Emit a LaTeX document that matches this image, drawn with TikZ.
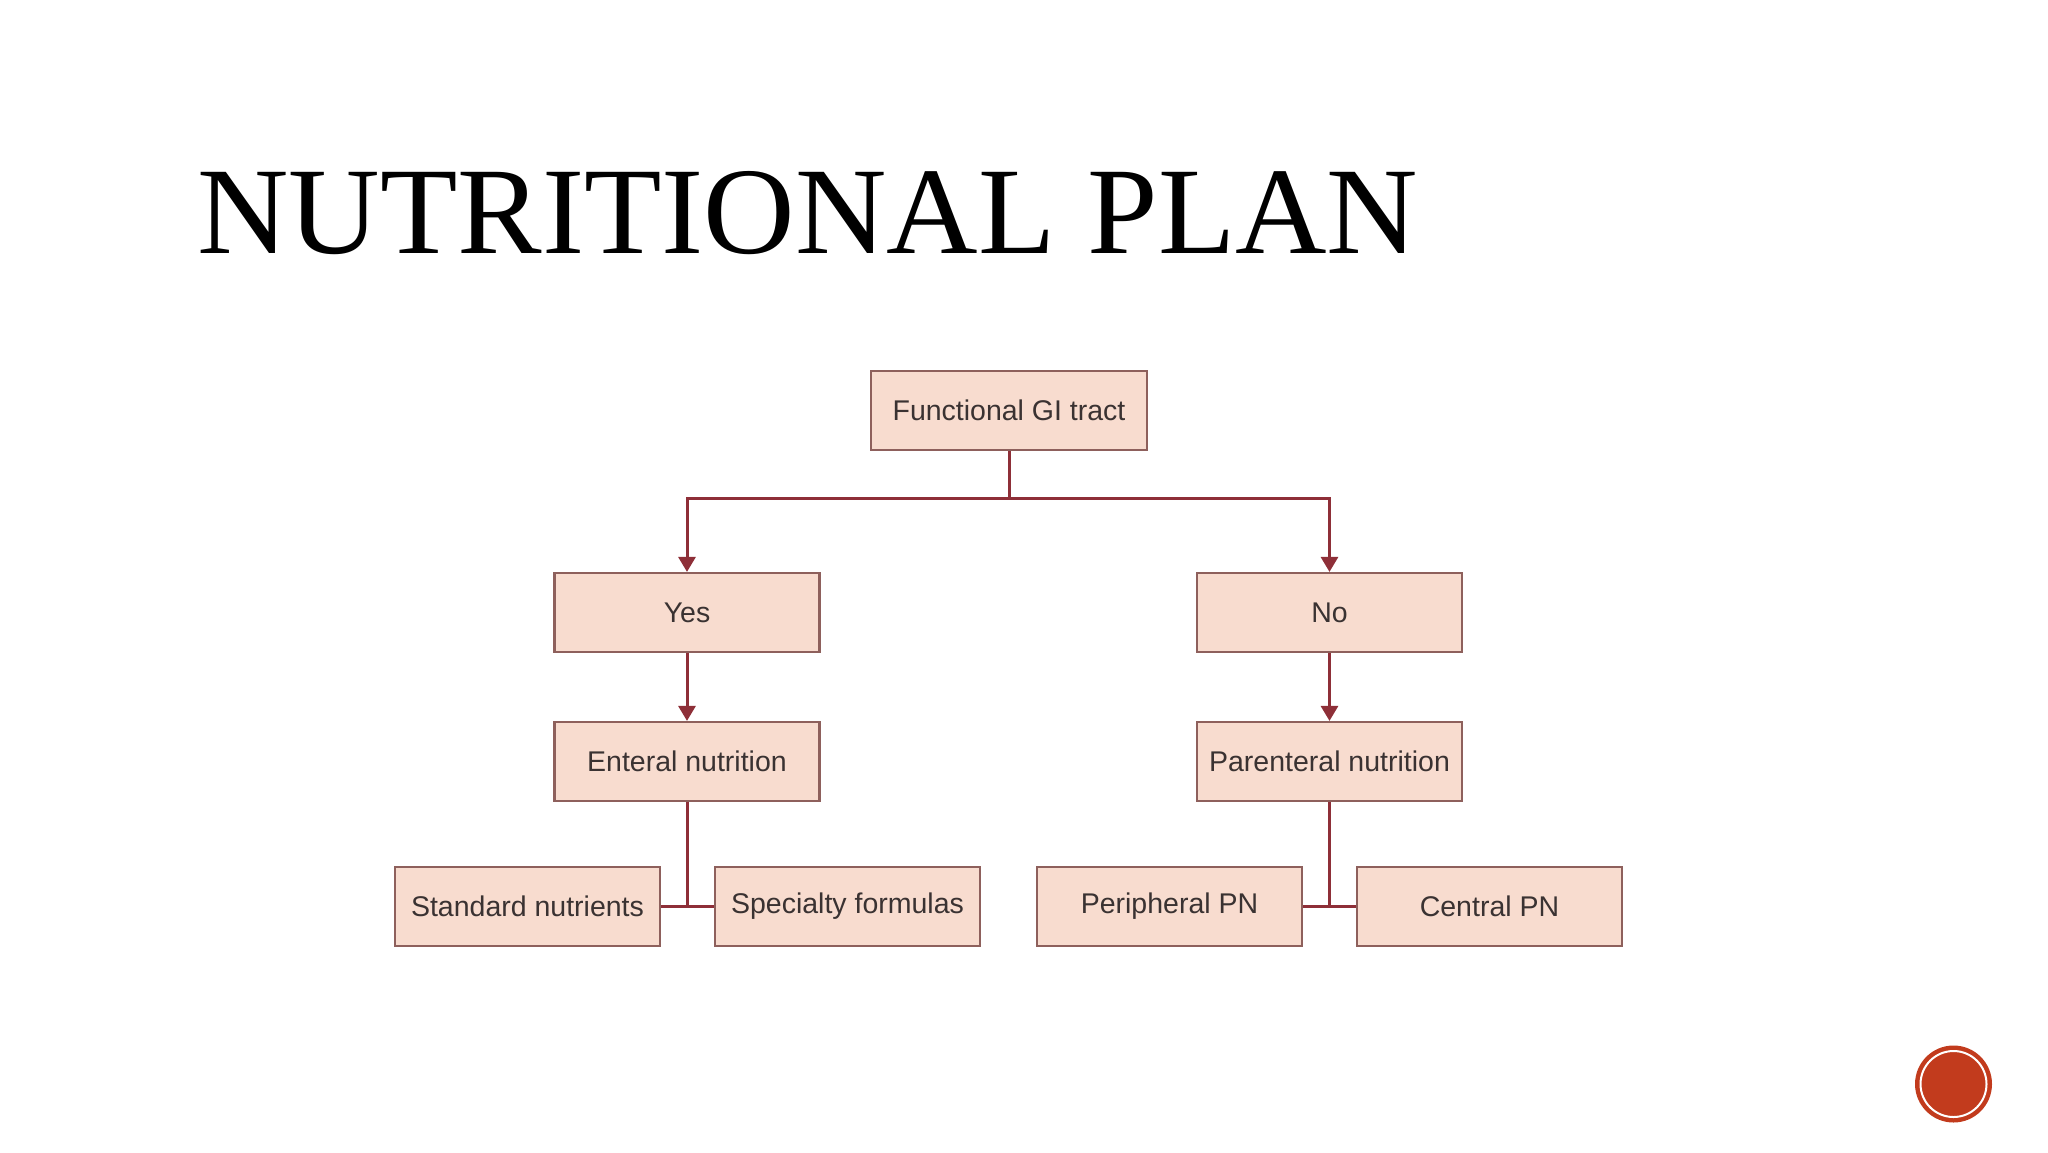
\documentclass[tikz,border=0pt]{standalone}
\usepackage{fontspec}
\setmainfont{Liberation Sans}
\newfontfamily\titlefont{Liberation Serif}
\usetikzlibrary{arrows.meta}
\definecolor{boxfill}{HTML}{F8DCCF}
\definecolor{boxline}{HTML}{8E605C}
\definecolor{linkred}{HTML}{8E2F38}
\definecolor{txtgray}{HTML}{3A3232}
\definecolor{dotred}{HTML}{C23B1D}
\tikzset{
  planbox/.style={draw=boxline, line width=2.2pt, fill=boxfill, minimum width=265pt,
    minimum height=79pt, inner sep=0pt, text=txtgray, font=\fontsize{28.5}{34}\selectfont},
  link/.style={draw=linkred, line width=3pt},
  arrow/.style={link, -{Triangle[length=15pt,width=17pt]}}
}
\begin{document}
\begin{tikzpicture}[x=1pt, y=-1pt]
  \useasboundingbox (0,0) rectangle (2048,1152);
  % title
  \node[anchor=base west, inner sep=0pt, font=\titlefont\fontsize{124}{124}\selectfont] (title)
    at (197,253) {\scalebox{1.022}[1]{NUTRITIONAL PLAN}};
  % boxes
  \node[planbox, minimum width=276pt] (gi) at (1009,410.5) {Functional GI tract};
  \node[planbox] (yes) at (687,612.5) {Yes};
  \node[planbox] (no) at (1329.5,612.5) {No};
  \node[planbox] (enteral) at (687,761.5) {Enteral nutrition};
  \node[planbox] (parent) at (1329.5,761.5) {Parenteral nutrition};
  \node[planbox] (std) at (527.5,906.5) {Standard nutrients};
  \node[planbox] (spec) at (847.5,906.5) {Specialty formulas};
  \node[planbox] (peri) at (1169.5,906.5) {Peripheral PN};
  \node[planbox] (central) at (1489.5,906.5) {Central PN};
  % connectors
  \coordinate (split) at (1009,498);
  \coordinate (ejoin) at (687,906.5);
  \coordinate (pjoin) at (1329.5,906.5);
  \draw[link] (gi) -- (split);
  \draw[arrow] (split) -| (yes);
  \draw[arrow] (split) -| (no);
  \draw[arrow] (yes) -- (enteral);
  \draw[arrow] (no) -- (parent);
  \draw[link] (enteral) -- (ejoin);
  \draw[link] (parent) -- (pjoin);
  \draw[link] (std) -- (spec);
  \draw[link] (peri) -- (central);
  % page dot
  \node[circle, fill=dotred, minimum size=77pt, inner sep=0pt] (dot) at (1953.5,1084) {};
  \draw[white, line width=2pt] (dot.center) circle (33pt);
\end{tikzpicture}
\end{document}
